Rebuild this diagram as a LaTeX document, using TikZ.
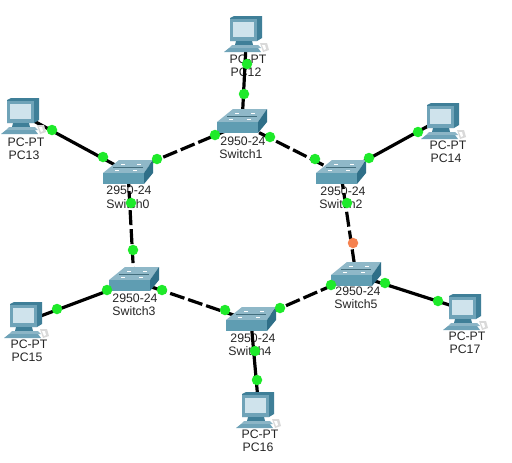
\documentclass[tikz,border=0pt]{standalone}
\usepackage{fontspec}
\setmainfont{Liberation Sans}
\definecolor{swtop}{HTML}{8FB8C8}
\definecolor{swfront}{HTML}{5F9DB2}
\definecolor{swside}{HTML}{2F6F88}
\definecolor{pcdark}{HTML}{3F7F98}
\definecolor{pcmid}{HTML}{6FA3B8}
\definecolor{pcscreen}{HTML}{CFE3EC}
\definecolor{linkgreen}{HTML}{1EEA2A}
\definecolor{linkorange}{HTML}{F58250}
\tikzset{
  link/.style={line width=3.2pt,black},
  dashlink/.style={link,dash pattern=on 15pt off 4pt},
  led/.style={circle,inner sep=0pt,minimum size=10.5pt,fill=linkgreen},
  ledo/.style={led,fill=linkorange},
  lab/.style={inner sep=0pt,font=\fontsize{12.3}{12.3}\selectfont,text=black!85},
  place/.style={inner sep=0pt,minimum size=0pt}
}
% #1 = x,y of the front face's top-left corner
\newcommand{\switchicon}[1]{%
  \begin{scope}[shift={(#1)}]
    \fill[swtop] (0,0) -- (16,-13) -- (50,-13) -- (41,0) -- cycle;
    \fill[swfront] (0,0) rectangle (41,11);
    \fill[swside] (41,0) -- (50,-13) -- (50,0) -- (41,11) -- cycle;
    \draw[white,line width=1pt] (12,-3) -- (16,-3) (30,-3) -- (34,-3) (18,-9) -- (22,-9) (34,-9) -- (38,-9);
    \draw[swfront!70!black,line width=.5pt] (10,-6) -- (40,-6);
  \end{scope}}
% #1 = x,y of the monitor's top-left corner
\newcommand{\pcicon}[1]{%
  \begin{scope}[shift={(#1)}]
    \fill[black!15] (30,27) -- (37,27) -- (39,34) -- (33,36) -- cycle;
    \fill[white] (32,29) -- (35,29) -- (36,33) -- (34,34) -- cycle;
    \fill[pcdark] (0,2) -- (4,0) -- (32,0) -- (32,22) -- (27,25) -- (0,25) -- cycle;
    \fill[pcmid] (0,3) rectangle (27,25);
    \fill[pcscreen] (3,6) rectangle (24,21);
    \fill[pcdark] (6,25) -- (22,25) -- (23,29) -- (5,29) -- cycle;
    \fill[pcmid!80!white] (2,29) -- (28,29) -- (31,32) -- (-1,32) -- cycle;
    \fill[pcmid] (-1,32) -- (28,32) -- (31,36) -- (-6,36) -- cycle;
  \end{scope}}
\begin{document}
\begin{tikzpicture}[x=1pt,y=-1pt]
\useasboundingbox (0,0) rectangle (512,463);
\fill[white] (0,0) rectangle (512,463);
% anchor points of the devices
\node[place] (s0) at (128,172) {};
\node[place] (s1) at (242,124) {};
\node[place] (s2) at (341,174) {};
\node[place] (s3) at (134,281) {};
\node[place] (s4) at (251,321) {};
\node[place] (s5) at (356,275) {};
\node[place] (p12) at (246,45) {};
\node[place] (p13) at (32,120) {};
\node[place] (p14) at (430,125) {};
\node[place] (p15) at (30,320) {};
\node[place] (p16) at (258,400) {};
\node[place] (p17) at (465,310) {};
% labels
\node[lab] (l1a) at (243,141) {2950-24};
\node[lab] (l1b) at (241,154) {Switch1};
\node[lab] (l0a) at (129,190) {2950-24};
\node[lab] (l0b) at (128,204) {Switch0};
\node[lab] (l2a) at (343,191) {2950-24};
\node[lab] (l2b) at (341,204) {Switch2};
\node[lab] (l3a) at (135,298) {2950-24};
\node[lab] (l3b) at (134,311) {Switch3};
\node[lab] (l4a) at (253,338) {2950-24};
\node[lab] (l4b) at (250,351) {Switch4};
\node[lab] (l5a) at (358,291) {2950-24};
\node[lab] (l5b) at (356,304) {Switch5};
\node[lab] (l12a) at (248,59) {PC-PT};
\node[lab] (l12b) at (246,72) {PC12};
\node[lab] (l13a) at (26,142) {PC-PT};
\node[lab] (l13b) at (24,155) {PC13};
\node[lab] (l14a) at (448,145) {PC-PT};
\node[lab] (l14b) at (446,158) {PC14};
\node[lab] (l15a) at (29,344) {PC-PT};
\node[lab] (l15b) at (27,357) {PC15};
\node[lab] (l16a) at (260,434) {PC-PT};
\node[lab] (l16b) at (258,447) {PC16};
\node[lab] (l17a) at (467,336) {PC-PT};
\node[lab] (l17b) at (465,349) {PC17};
% connectors
\draw[link] (p12) -- (s1);
\draw[link] (p13) -- (s0);
\draw[link] (p14) -- (s2);
\draw[link] (p15) -- (s3);
\draw[link] (p16) -- (s4);
\draw[link] (p17) -- (s5);
\draw[dashlink] (s0) -- (s1);
\draw[dashlink] (s1) -- (s2);
\draw[dashlink] (s2) -- (s5);
\draw[dashlink] (s0) -- (s3);
\draw[dashlink] (s3) -- (s4);
\draw[dashlink] (s4) -- (s5);
% devices
\switchicon{217,122}
\switchicon{103,173}
\switchicon{316,173}
\switchicon{109,280}
\switchicon{226,320}
\switchicon{331,275}
\pcicon{230,16}
\pcicon{7,98}
\pcicon{427,103}
\pcicon{10,302}
\pcicon{242,392}
\pcicon{449,294}
% link lights
\node[led] (d1) at (247,64) {};
\node[led] (d2) at (244,94) {};
\node[led] (d3) at (52,130) {};
\node[led] (d4) at (103,157) {};
\node[led] (d5) at (157,159) {};
\node[led] (d6) at (215,135) {};
\node[led] (d7) at (270,137) {};
\node[led] (d8) at (315,159) {};
\node[led] (d9) at (369,158) {};
\node[led] (d10) at (418,132) {};
\node[led] (d11) at (347,203) {};
\node[ledo] (d12) at (353,243) {};
\node[led] (d13) at (131,203) {};
\node[led] (d14) at (133,250) {};
\node[led] (d15) at (57,309) {};
\node[led] (d16) at (107,290) {};
\node[led] (d17) at (162,290) {};
\node[led] (d18) at (225,310) {};
\node[led] (d19) at (280,308) {};
\node[led] (d20) at (331,285) {};
\node[led] (d21) at (385,283) {};
\node[led] (d22) at (438,301) {};
\node[led] (d23) at (255,351) {};
\node[led] (d24) at (257,380) {};
\end{tikzpicture}
\end{document}
